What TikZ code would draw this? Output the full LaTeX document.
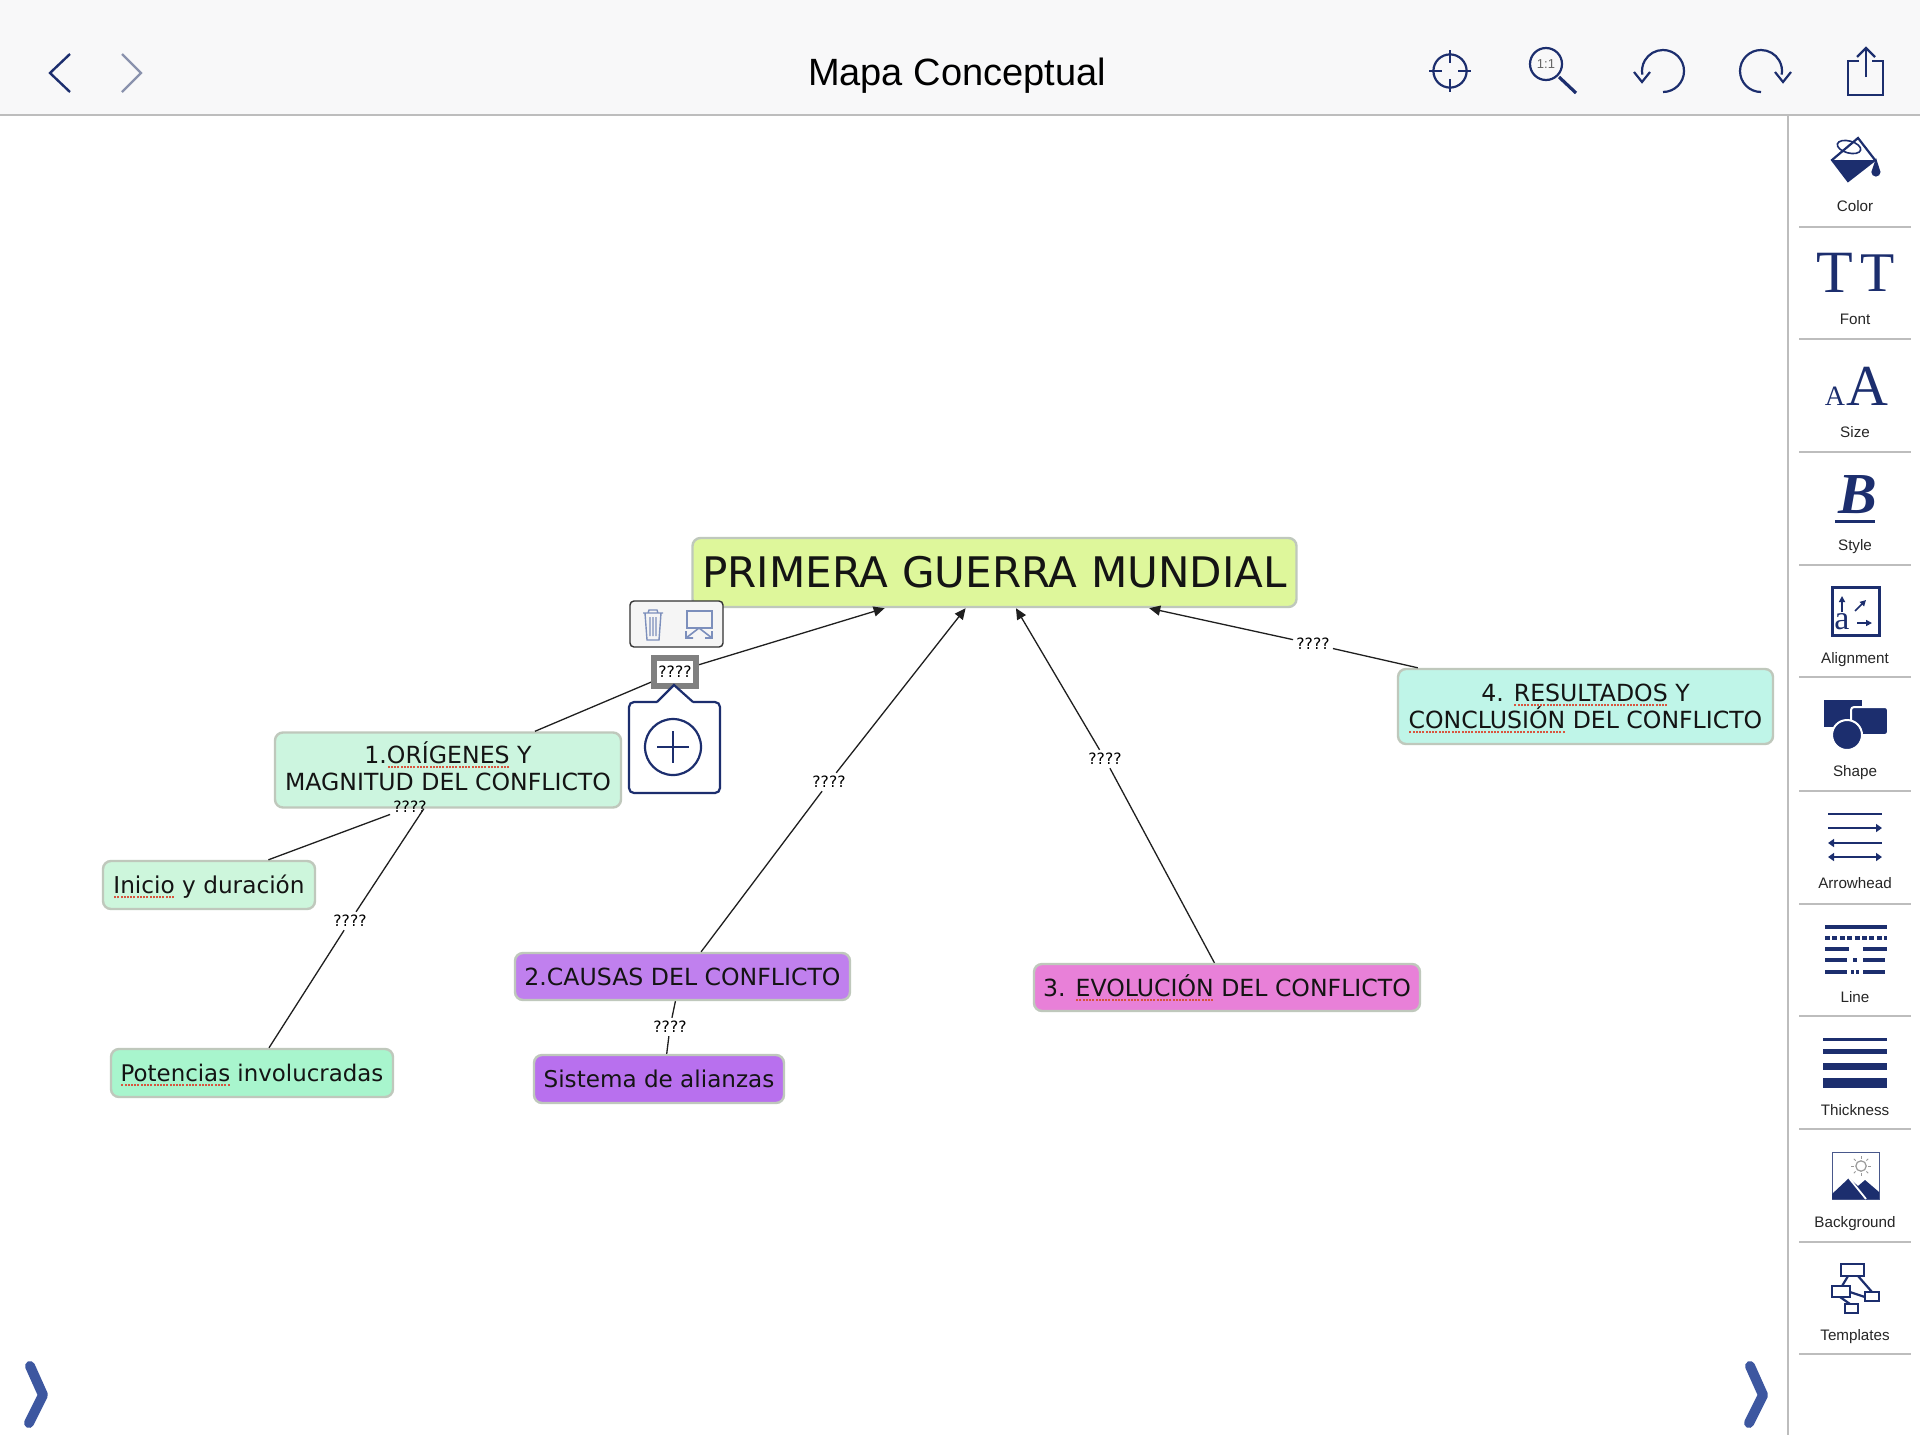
\documentclass[tikz,border=0pt]{standalone}
\usepackage{fontspec}
\setmainfont{DejaVu Sans}
\newfontfamily\uifont{Liberation Sans}
\newfontfamily\iconfont{Liberation Serif}
\usetikzlibrary{arrows.meta}
\definecolor{navy}{HTML}{1C2E6E}
\definecolor{barbg}{HTML}{F8F8F9}
\definecolor{rulegray}{HTML}{BDBDBD}
\definecolor{edgegray}{HTML}{BFC8BC}
\definecolor{spellred}{HTML}{D8553F}
\definecolor{trashblue}{HTML}{7C8FBC}
\definecolor{pagearrow}{HTML}{3D57A0}
\definecolor{fadedback}{HTML}{8A92AD}
\newcommand{\spell}[1]{\leavevmode\setbox0\hbox{#1}\rlap{\textcolor{spellred}{\hbox to\wd0{\xleaders\hbox to 1.6pt{\hss\rule[-0.2em]{1pt}{0.09em}\hss}\hfill}}}\box0\relax}
\tikzset{
    concept/.style={draw=edgegray,line width=1.2pt,rounded corners=4pt,inner sep=0pt,align=center,text=black!92,font=\fontsize{11.8}{13.5}\selectfont},
    oneline/.style={concept,text height=10.6pt,text depth=2pt},
    linkword/.style={inner sep=1.5pt,font=\fontsize{7.8}{9}\selectfont},
    link/.style={line width=0.65pt,black!88},
    linkarrow/.style={link,-{Triangle[length=5.5pt,width=5pt]}},
    uilabel/.style={font=\uifont\fontsize{7.6}{9}\selectfont,text=black!85,text height=6.5pt,text depth=1pt},
    sep/.style={draw=rulegray,line width=0.8pt},
    icon/.style={draw=navy,line width=1.1pt},
    iconfill/.style={fill=navy},
    glyph/.style={text=navy,inner sep=0pt},
    pagechevron/.style={pagearrow,line width=5pt,line cap=round,line join=round},
}
\begin{document}
\begin{tikzpicture}[x=0.5pt,y=-0.5pt]
    \useasboundingbox (0,0) rectangle (1920,1435);
    \fill[white] (0,0) rectangle (1920,1435);

    \fill[barbg] (0,0) rectangle (1920,115);
    \draw[sep] (0,115)--(1920,115);
    \draw[sep] (1788,115)--(1788,1435);
    \node[inner sep=0pt,font=\uifont\fontsize{19}{22}\selectfont] (title) at (957,76) {Mapa Conceptual};

    \draw[navy,line width=1.2pt] (70,54)--(50,73)--(70,92);
    \draw[fadedback,line width=1.2pt] (122,54)--(141,73)--(122,92);

    \draw[icon] (1450,71) circle[radius=8.3pt];
    \draw[icon] (1429,71)--(1442,71) (1458,71)--(1471,71) (1450,50)--(1450,63) (1450,79)--(1450,92);

    \draw[icon] (1546,64) circle[radius=8pt];
    \node[font=\uifont\fontsize{6.5}{7}\selectfont,text=black!60,inner sep=0pt] (zoomone) at (1546,64) {1:1};
    \draw[icon,line width=1.6pt] (1559,77)--(1576,93);

    \draw[icon] (1663,92) arc[start angle=-90,end angle=190,radius=10.5pt];
    \draw[icon] (1634,72)--(1642,82)--(1650,72);
    \draw[icon] (1761,92) arc[start angle=270,end angle=-10,radius=10.5pt];
    \draw[icon] (1775,72)--(1783,82)--(1791,72);

    \draw[icon] (1859,61)--(1848,61)--(1848,95)--(1883,95)--(1883,61)--(1872,61);
    \draw[icon] (1866,77)--(1866,48);
    \draw[icon] (1857,57)--(1866,48)--(1875,57);

    \foreach \y in {227,339,452,565,677,791,904,1016,1129,1242,1354}
        \draw[sep] (1799,\y)--(1911,\y);
    \node[uilabel] (lcolor) at (1855,206) {Color};
    \node[uilabel] (lfont) at (1855,319) {Font};
    \node[uilabel] (lsize) at (1855,432) {Size};
    \node[uilabel] (lstyle) at (1855,545) {Style};
    \node[uilabel] (lalign) at (1855,658) {Alignment};
    \node[uilabel] (lshape) at (1855,771) {Shape};
    \node[uilabel] (larrow) at (1855,883) {Arrowhead};
    \node[uilabel] (lline) at (1855,997) {Line};
    \node[uilabel] (lthick) at (1855,1110) {Thickness};
    \node[uilabel] (lback) at (1855,1222) {Background};
    \node[uilabel] (ltempl) at (1855,1335) {Templates};

    \draw[icon] (1832,160)--(1858,138)--(1875,160)--(1848,181)--cycle;
    \fill[navy] (1832,160)--(1874,160)--(1848,181)--cycle;
    \draw[icon,line width=0.8pt] (1849,147) ellipse[x radius=6pt,y radius=3pt,rotate=-15];
    \fill[navy] (1876,158)--(1880.5,172) arc[start angle=0,end angle=-180,radius=2.3pt]--cycle;

    \node[glyph,font=\iconfont\fontsize{30}{31}\selectfont] (fontbig) at (1835,273) {T};
    \node[glyph,font=\iconfont\fontsize{28}{31}\selectfont] (fontthin) at (1878,273) {T};

    \node[glyph,font=\iconfont\fontsize{14}{14}\selectfont,anchor=base] (sizesmall) at (1835,405) {A};
    \node[glyph,font=\iconfont\fontsize{29}{29}\selectfont,anchor=base] (sizebig) at (1867,405) {A};

    \node[glyph,font=\iconfont\bfseries\itshape\fontsize{29}{29}\selectfont,anchor=base] (stylebold) at (1858,513) {B};
    \fill[navy] (1835,520) rectangle (1875,523);

    \draw[icon,line width=1.5pt] (1832,587) rectangle (1879,635);
    \node[glyph,font=\iconfont\fontsize{17}{17}\selectfont,anchor=base] (aligna) at (1842,629) {a};
    \draw[navy,line width=0.8pt,-{Triangle[length=3pt,width=3pt]}] (1842,612)--(1842,596);
    \draw[navy,line width=0.8pt,-{Triangle[length=3pt,width=3pt]}] (1855,611)--(1866,600);
    \draw[navy,line width=0.8pt,-{Triangle[length=3pt,width=3pt]}] (1857,623)--(1872,623);

    \fill[navy] (1824,700) rectangle (1862,727);
    \draw[iconfill,draw=white,line width=1pt,rounded corners=1.5pt] (1851,707) rectangle (1888,735);
    \draw[iconfill,draw=white,line width=1pt] (1847,735) circle[radius=7.5pt];

    \draw[icon] (1828,814)--(1882,814);
    \draw[icon,-{Triangle[length=3pt,width=4pt]}] (1828,828)--(1882,828);
    \draw[icon,{Triangle[length=3pt,width=4pt]}-] (1828,843)--(1882,843);
    \draw[icon,{Triangle[length=3pt,width=4pt]}-{Triangle[length=3pt,width=4pt]}] (1828,857)--(1882,857);

    \draw[navy,line width=1.8pt] (1825,927)--(1887,927);
    \draw[navy,line width=1.8pt,dash pattern=on 2.5pt off 1.2pt] (1825,938)--(1887,938);
    \draw[navy,line width=1.8pt,dash pattern=on 12pt off 7pt] (1825,949)--(1887,949);
    \draw[navy,line width=1.8pt,dash pattern=on 11pt off 3pt on 2pt off 3pt] (1825,960)--(1887,960);
    \draw[navy,line width=1.8pt,dash pattern=on 11pt off 2pt on 1.5pt off 1.2pt on 1.5pt off 2pt] (1825,972)--(1887,972);

    \fill[navy] (1823,1038) rectangle (1887,1041);
    \fill[navy] (1823,1048.5) rectangle (1887,1053.5);
    \fill[navy] (1823,1062.5) rectangle (1887,1069.5);
    \fill[navy] (1823,1078) rectangle (1887,1088);

    \draw[navy!80,line width=0.5pt] (1832,1152) rectangle (1879,1199);
    \fill[navy] (1832,1199)--(1832,1194)--(1849,1178)--(1858,1186)--(1865,1180)--(1879,1192)--(1879,1199)--cycle;
    \draw[white,line width=0.9pt] (1849,1178)--(1866,1199);
    \draw[black!40,line width=0.6pt] (1861,1166) circle[radius=2.6pt];
    \foreach \dx/\dy in {8/0,-8/0,0/8,0/-8,6/6,-6/6,6/-6,-6/-6}
        \draw[black!40,line width=0.4pt] (1861+\dx*0.9,1166+\dy*0.9)--(1861+\dx*1.2,1166+\dy*1.2);

    \draw[icon] (1841,1264) rectangle (1864,1276);
    \draw[icon] (1832,1286) rectangle (1850,1297);
    \draw[icon] (1865,1292) rectangle (1879,1301);
    \draw[icon] (1845,1304) rectangle (1858,1313);
    \draw[icon] (1848,1276)--(1842,1286) (1858,1276)--(1872,1292) (1850,1292)--(1865,1297) (1840,1297)--(1850,1304);

    \draw[pagechevron] (30,1366)--(43,1395)--(29,1423);
    \draw[pagechevron] (1750,1366)--(1763,1395)--(1749,1423);

    \node[concept,fill={rgb,255:red,222;green,247;blue,155},font=\fontsize{21.05}{24}\selectfont,minimum width=302pt,minimum height=34.5pt] (guerra) at (994.5,572.5) {PRIMERA GUERRA MUNDIAL};
    \node[concept,fill={rgb,255:red,204;green,245;blue,223},minimum width=173pt,minimum height=37.5pt] (origenes) at (448,770) {1.\spell{ORÍGENES} Y\\MAGNITUD DEL CONFLICTO\rule[-4pt]{0pt}{4pt}};
    \node[oneline,fill={rgb,255:red,192;green,128;blue,238},minimum width=167.5pt,minimum height=23.5pt] (causas) at (682.5,976.5) {2.CAUSAS DEL CONFLICTO};
    \node[oneline,fill={rgb,255:red,232;green,128;blue,216},minimum width=193pt,minimum height=23.5pt] (evolucion) at (1227,987.5) {3. \spell{EVOLUCIÓN} DEL CONFLICTO};
    \node[concept,fill={rgb,255:red,191;green,245;blue,232},minimum width=187.5pt,minimum height=37.5pt] (resultados) at (1585.5,706.5) {\rule{0pt}{11pt}4. \spell{RESULTADOS} Y\\\spell{CONCLUSIÓN} DEL CONFLICTO};
    \node[oneline,fill={rgb,255:red,205;green,246;blue,220},font=\fontsize{11.6}{13.5}\selectfont,minimum width=106pt,minimum height=24pt] (inicio) at (209,885) {\spell{Inicio} y duración};
    \node[oneline,fill={rgb,255:red,168;green,245;blue,205},font=\fontsize{11.45}{13.5}\selectfont,minimum width=141pt,minimum height=24pt] (potencias) at (252,1073) {\spell{Potencias} involucradas};
    \node[oneline,fill={rgb,255:red,184;green,112;blue,238},font=\fontsize{11.55}{13.5}\selectfont,minimum width=125pt,minimum height=24pt] (sistema) at (659,1079) {Sistema de alianzas};

    \node[linkword] (wordorigenes) at (675,672) {????};
    \node[linkword] (wordcausas) at (829,782) {????};
    \node[linkword] (wordevolucion) at (1105,759) {????};
    \node[linkword] (wordresultados) at (1313,644) {????};
    \node[linkword] (wordinicio) at (410,807) {????};
    \node[linkword] (wordpotencias) at (350,921) {????};
    \node[linkword] (wordsistema) at (670,1027) {????};

    \draw[link] (origenes.24)--(wordorigenes);
    \draw[linkarrow] (wordorigenes)--(guerra.198.2);
    \draw[link] (causas.53.3)--(wordcausas);
    \draw[linkarrow] (wordcausas)--(guerra.231);
    \draw[link] (evolucion.117)--(wordevolucion);
    \draw[linkarrow] (wordevolucion)--(guerra.301.9);
    \draw[link] (resultados.167.15)--(wordresultados);
    \draw[linkarrow] (wordresultados)--(guerra.347.5);
    \draw[link] (inicio.23.4)--(wordinicio);
    \draw[link] (potencias.56.3)--(wordpotencias);
    \draw[link] (wordpotencias)--(origenes.238.5);
    \draw[link] (causas.254.5)--(wordsistema);
    \draw[link] (wordsistema)--(sistema.73.7);

    \draw[draw=black!50,line width=3pt] (654,658) rectangle (696,686);

    \draw[draw=black!80,fill=black!4,line width=0.7pt,rounded corners=2pt] (630,601) rectangle (723,647);
    \draw[trashblue,line width=0.7pt] (643,613)--(663,613) (648,613)--(649,610)--(657,610)--(658,613) (645,613)--(647,640)--(659,640)--(661,613) (650,617)--(650,636) (653,617)--(653,636) (656,617)--(656,636);
    \draw[trashblue,line width=0.8pt] (687,628)--(687,611)--(712,611)--(712,628)--cycle;
    \draw[trashblue,line width=0.8pt] (699,628)--(686,638) (686,631)--(686,638)--(693,638) (699,628)--(712,638) (712,631)--(712,638)--(705,638);

    \draw[icon,fill=white,rounded corners=2.5pt] (657,702)--(629,702)--(629,793)--(720,793)--(720,702)--(693,702);
    \draw[icon,fill=white] (657,702)--(674,685)--(693,702);
    \draw[icon] (673,747) circle[radius=14pt];
    \draw[icon] (657,747)--(689,747) (673,731)--(673,763);
\end{tikzpicture}
\end{document}
